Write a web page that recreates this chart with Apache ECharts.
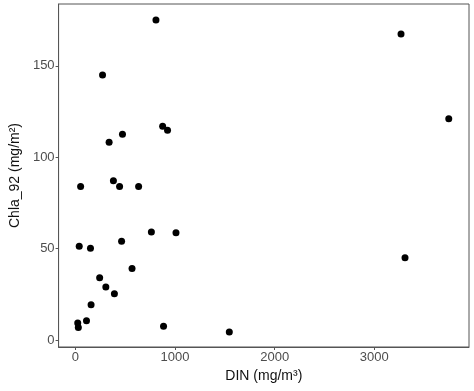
<!DOCTYPE html>
<html><head><meta charset="utf-8">
<script src="https://cdn.jsdelivr.net/npm/echarts@6/dist/echarts.min.js"></script>
<style>html,body{margin:0;padding:0;background:#fff}#c{width:474px;height:391px}</style>
</head><body><div id="c"></div>
<script>
const din = [809,273,876,925,473,339,53,382,444,635,763,1010,39,152,464,569,244,306,392,158,24,30,112,885,1545,3268,3747,3308];
const chla = [175,145,117,114.7,112.5,108.2,84,87.1,84,84,59.1,58.7,51.3,50.2,54,39.2,34.1,29,25.3,19.3,9.3,6.8,10.6,7.5,4.4,167.4,121,45];
const xTicks = [0,1000,2000,3000];
const yTicks = [0,50,100,150];
const xTitle = 'DIN (mg/m³)';
const yTitle = 'Chla_92 (mg/m²)';

const chart = echarts.init(document.getElementById('c'));
const labelStyle = {color:'#4d4d4d', fontSize:13, fontFamily:'Liberation Sans, Arial, sans-serif', formatter:v=>String(v)};
chart.setOption({
  animation:false,
  grid:{left:53, top:4, right:5, bottom:44, show:true, borderColor:'#555', borderWidth:1},
  xAxis:{type:'value', min:-168, max:3950,
    name:xTitle, nameLocation:'middle', nameGap:17,
    nameTextStyle:{color:'#111', fontSize:14, fontFamily:'Liberation Sans, Arial, sans-serif'},
    splitLine:{show:false},
    axisLine:{show:true, onZero:false, lineStyle:{color:'#555'}},
    axisTick:{show:true, length:3, customValues:xTicks, lineStyle:{color:'#555'}},
    axisLabel:Object.assign({customValues:xTicks, margin:4}, labelStyle)
  },
  yAxis:{type:'value', min:-3.8, max:183.8,
    name:yTitle, nameLocation:'middle', nameGap:30, nameRotate:90,
    nameTextStyle:{color:'#111', fontSize:14, fontFamily:'Liberation Sans, Arial, sans-serif'},
    splitLine:{show:false},
    axisLine:{show:true, onZero:false, lineStyle:{color:'#555'}},
    axisTick:{show:true, length:3, customValues:yTicks, lineStyle:{color:'#555'}},
    axisLabel:Object.assign({customValues:yTicks, margin:4}, labelStyle)
  },
  series:[{type:'scatter', symbol:'circle', symbolSize:7, itemStyle:{color:'#000', opacity:1},
    data: din.map((d,i)=>[d, chla[i]])}]
});
</script></body></html>
